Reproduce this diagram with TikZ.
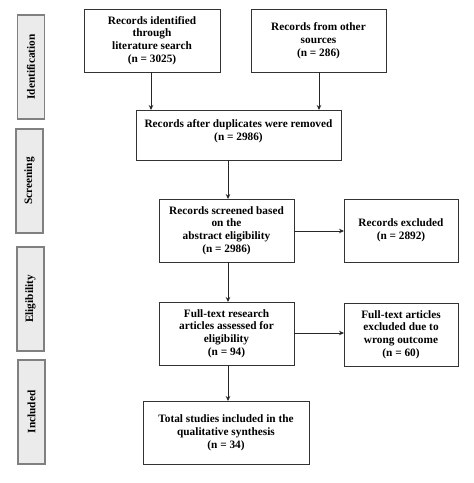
\documentclass[tikz,border=0pt]{standalone}
\usepackage{fontspec}
\setmainfont{Liberation Serif}
\usetikzlibrary{arrows.meta}
\begin{document}
\begin{tikzpicture}[x=1pt,y=-1pt,
  flowbox/.style={draw=black!80, line width=0.9pt, fill=white, align=center,
    font=\bfseries\fontsize{11.3}{12.8}\selectfont, inner sep=0pt, outer sep=0pt},
  phase/.style={draw=black!50, line width=1.1pt, fill=black!8, rotate=90,
    font=\bfseries\fontsize{11.3}{13}\selectfont, inner sep=0pt, outer sep=0pt,
    minimum width=104pt, minimum height=27pt},
  arr/.style={line width=1pt, draw=black!85, -{Stealth[length=5pt,width=4.5pt]}}]
\useasboundingbox[fill=white] (0,0) rectangle (474,483);

% phase labels
\node[phase] (pid) at (31,67) {Identification};
\node[phase] (psc) at (29.5,181) {Screening};
\node[phase] (pel) at (30.5,299) {Eligibility};
\node[phase] (pin) at (31.5,412) {Included};

% boxes
\node[flowbox, minimum width=136pt, minimum height=63pt] (b1) at (152,40.5)
  {Records identified\\through\\literature search\\(n = 3025)};
\node[flowbox, minimum width=135pt, minimum height=63pt] (b2) at (318.5,40.5)
  {Records from other\\sources\\(n = 286)};
\node[flowbox, minimum width=205pt, minimum height=50pt] (b3) at (238.5,135) {};
\node[align=center, font=\bfseries\fontsize{11.3}{12.8}\selectfont] (t3) at (238.5,131.5)
  {Records after duplicates were removed\\(n = 2986)};
\node[flowbox, minimum width=135pt, minimum height=63pt] (b4) at (226.5,230.5)
  {Records screened based\\on the\\abstract eligibility\\(n = 2986)};
\node[flowbox, minimum width=114pt, minimum height=63pt] (b5) at (401,230.5)
  {Records excluded\\(n = 2892)};
\node[flowbox, minimum width=135pt, minimum height=63pt] (b6) at (226.5,333.5)
  {Full-text research\\articles assessed for\\eligibility\\(n = 94)};
\node[flowbox, minimum width=114pt, minimum height=63pt] (b7) at (401,334.5)
  {Full-text articles\\excluded due to\\wrong outcome\\(n = 60)};
\node[flowbox, minimum width=166pt, minimum height=63pt] (b8) at (226,432.5)
  {Total studies included in the\\qualitative synthesis\\(n = 34)};

% connectors
\draw[arr] (b1.south -| 151,0) -- (b3.north -| 151,0);
\draw[arr] (b2.south -| 319,0) -- (b3.north -| 319,0);
\draw[arr] (b3.south -| 228,0) -- (b4.north -| 228,0);
\draw[arr] (b4.east |- 0,231) -- (b5.west |- 0,231);
\draw[arr] (b4.south -| 228,0) -- (b6.north -| 228,0);
\draw[arr] (b6.east |- 0,333) -- (b7.west |- 0,333);
\draw[arr] (b6.south -| 228,0) -- (b8.north -| 228,0);
\end{tikzpicture}
\end{document}
